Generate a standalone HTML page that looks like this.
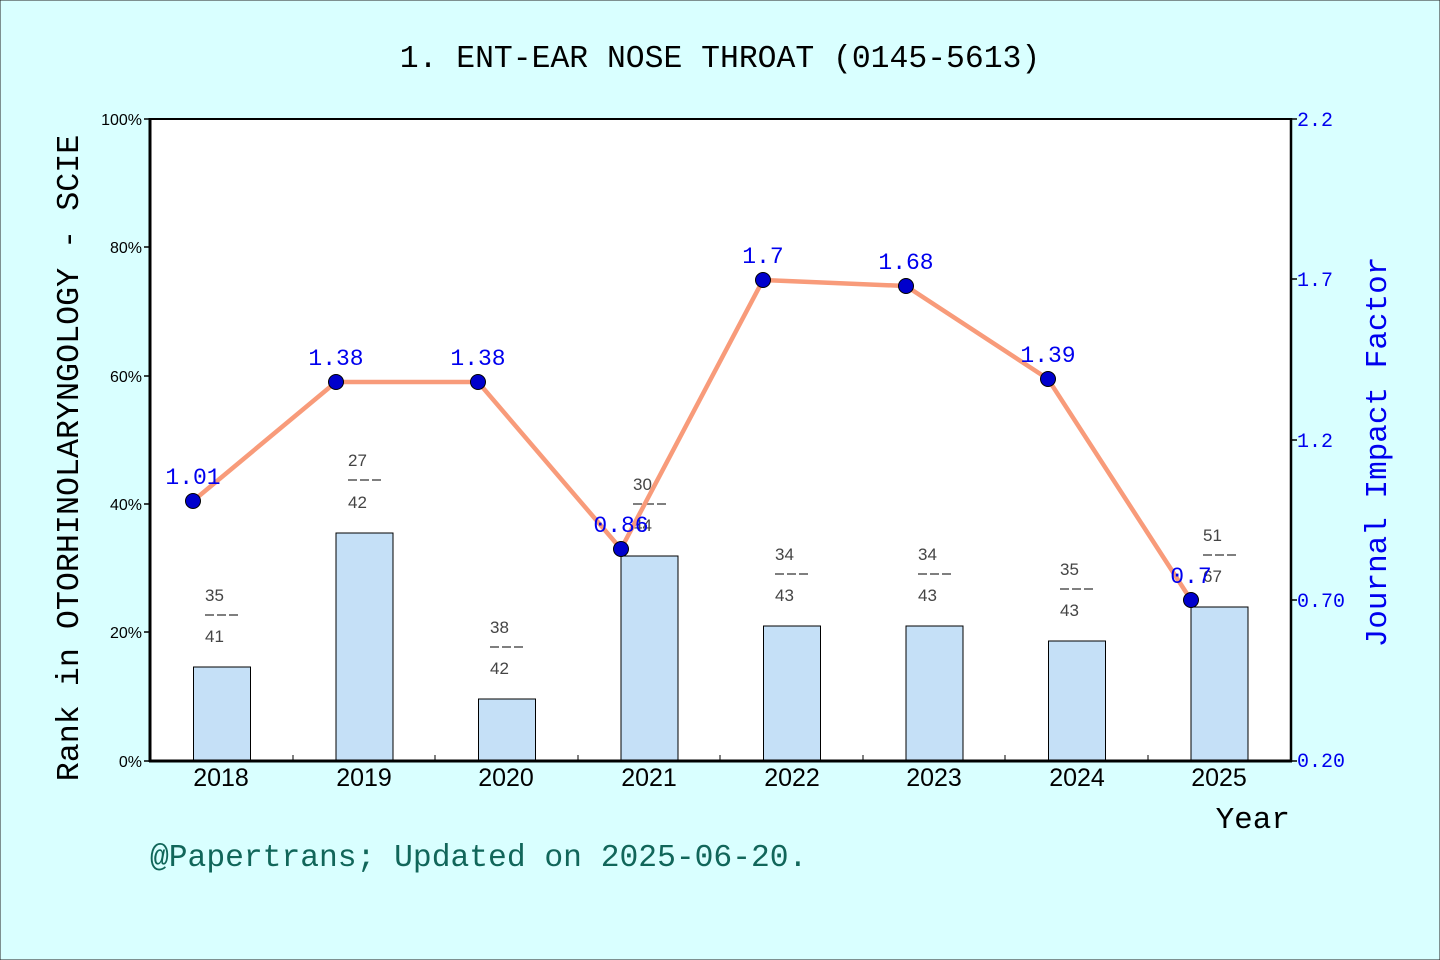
<!DOCTYPE html>
<html><head><meta charset="utf-8"><style>
html,body{margin:0;padding:0;background:#d9ffff;}
svg{display:block;}
text{font-family:"Liberation Mono",monospace;}
.s{font-family:"Liberation Sans",sans-serif;}
</style></head><body>
<svg width="1440" height="960" viewBox="0 0 1440 960" xmlns="http://www.w3.org/2000/svg">
<rect x="0" y="0" width="1440" height="960" fill="#d9ffff" stroke="#222" stroke-width="1"/>
<text x="720" y="67" font-size="31.4" text-anchor="middle" fill="#000">1. ENT-EAR NOSE THROAT (0145-5613)</text>
<rect x="150" y="119" width="1141" height="642" fill="#fff"/>
<g fill="#c5e0f7" stroke="#000" stroke-width="1">
<rect x="193.5" y="667" width="57" height="94"/>
<rect x="336" y="533" width="57" height="228"/>
<rect x="478.5" y="699" width="57" height="62"/>
<rect x="621" y="556" width="57" height="205"/>
<rect x="763.5" y="626" width="57" height="135"/>
<rect x="906" y="626" width="57" height="135"/>
<rect x="1048.5" y="641" width="57" height="120"/>
<rect x="1191" y="607" width="57" height="154"/>
</g>
<g font-size="17" fill="#444" class="s">
<text class="s" x="205" y="601">35</text><text class="s" x="205" y="642">41</text>
<text class="s" x="348" y="466">27</text><text class="s" x="348" y="508">42</text>
<text class="s" x="490" y="633">38</text><text class="s" x="490" y="674">42</text>
<text class="s" x="633" y="490">30</text><text class="s" x="633" y="531">44</text>
<text class="s" x="775" y="560">34</text><text class="s" x="775" y="601">43</text>
<text class="s" x="918" y="560">34</text><text class="s" x="918" y="601">43</text>
<text class="s" x="1060" y="575">35</text><text class="s" x="1060" y="616">43</text>
<text class="s" x="1203" y="541">51</text><text class="s" x="1203" y="582">67</text>
</g>
<g stroke="#555" stroke-width="1.5" stroke-dasharray="9,3">
<path d="M205 615h33M348 480h33M490 647h33M633 504h33M775 574h33M918 574h33M1060 589h33M1203 555h33"/>
</g>
<polyline points="193,501 336,382 478,382 621,549 763,280 906,286 1048,379 1191,600" fill="none" stroke="#f89b7a" stroke-width="4.5" stroke-linejoin="round"/>
<g fill="#0000cc" stroke="#000" stroke-width="1">
<circle cx="193" cy="501" r="7.5"/><circle cx="336" cy="382" r="7.5"/><circle cx="478" cy="382" r="7.5"/><circle cx="621" cy="549" r="7.5"/><circle cx="763" cy="280" r="7.5"/><circle cx="906" cy="286" r="7.5"/><circle cx="1048" cy="379" r="7.5"/><circle cx="1191" cy="600" r="7.5"/>
</g>
<g font-size="23" fill="#0000ee" text-anchor="middle">
<text x="193" y="484">1.01</text><text x="336" y="365">1.38</text><text x="478" y="365">1.38</text><text x="621" y="532">0.86</text><text x="763" y="263">1.7</text><text x="906" y="269">1.68</text><text x="1048" y="362">1.39</text><text x="1191" y="583">0.7</text>
</g>
<g stroke="#000" fill="none">
<rect x="150" y="119" width="1141" height="642" stroke-width="2"/>
<line x1="149" y1="761" x2="1292" y2="761" stroke-width="3"/>
<line x1="150" y1="118" x2="150" y2="762" stroke-width="3"/>
<line x1="1291" y1="118" x2="1291" y2="762" stroke-width="2.5"/>
<path d="M144 119H150M144 247H150M144 376H150M144 504H150M144 632H150M144 761H150" stroke-width="1.5"/>
<path d="M1291 119H1297M1291 279H1297M1291 440H1297M1291 600H1297M1291 761H1297" stroke-width="1.5"/>
<path d="M293 761V755M435 761V755M578 761V755M720 761V755M863 761V755M1005 761V755M1148 761V755" stroke-width="1"/>
</g>
<g font-size="16" fill="#000" text-anchor="end">
<text class="s" x="142" y="125">100%</text><text class="s" x="142" y="253">80%</text><text class="s" x="142" y="382">60%</text><text class="s" x="142" y="510">40%</text><text class="s" x="142" y="638">20%</text><text class="s" x="142" y="767">0%</text>
</g>
<g font-size="20" fill="#0000ee">
<text x="1297" y="126">2.2</text><text x="1297" y="286">1.7</text><text x="1297" y="447">1.2</text><text x="1297" y="607">0.70</text><text x="1297" y="767">0.20</text>
</g>
<g font-size="25" fill="#000" text-anchor="middle">
<text class="s" x="221" y="786">2018</text><text class="s" x="364" y="786">2019</text><text class="s" x="506" y="786">2020</text><text class="s" x="649" y="786">2021</text><text class="s" x="792" y="786">2022</text><text class="s" x="934" y="786">2023</text><text class="s" x="1077" y="786">2024</text><text class="s" x="1219" y="786">2025</text>
</g>
<text x="1290" y="828" font-size="31" text-anchor="end" fill="#000">Year</text>
<text transform="translate(78,458) rotate(-90)" font-size="31.7" text-anchor="middle" fill="#000">Rank in OTORHINOLARYNGOLOGY - SCIE</text>
<text transform="translate(1386,452) rotate(-90)" font-size="31" text-anchor="middle" fill="#0000ee">Journal Impact Factor</text>
<text x="150" y="866" font-size="31.3" fill="#11665a">@Papertrans; Updated on 2025-06-20.</text>
</svg>
</body></html>
